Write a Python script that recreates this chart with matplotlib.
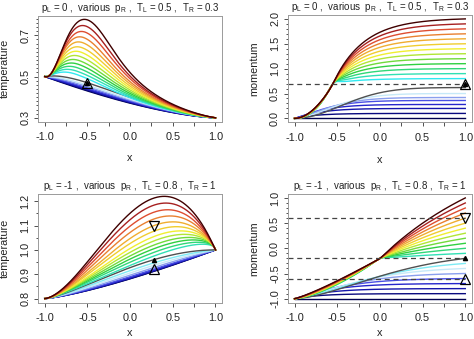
import numpy as np
import matplotlib.pyplot as plt
from matplotlib.colors import LinearSegmentedColormap
from matplotlib.ticker import MultipleLocator

plt.rcParams['font.family'] = ['Liberation Sans', 'DejaVu Sans']
plt.rcParams['mathtext.fontset'] = 'custom'
plt.rcParams['mathtext.rm'] = 'Liberation Sans'
plt.rcParams['mathtext.it'] = 'Liberation Sans:italic'
plt.rcParams['mathtext.default'] = 'regular'

# ---------------- top row: p_L = 0, various p_R, T_L = 0.5, T_R = 0.3
top_title = r'p$_L$ = 0 ,  various  p$_R$ ,  T$_L$ = 0.5 ,  T$_R$ = 0.3'
top_gray = 7
# momentum reached at x = 1
top_mom_end = [0.0, 0.1, 0.2, 0.28, 0.36, 0.42, 0.5, 0.62, 0.8, 0.9, 1.0, 1.1, 1.2,
               1.3, 1.4, 1.5, 1.6, 1.7, 1.8, 1.9, 2.0]
# rise of the momentum curves (exponent and length scale)
top_mom_k = [1.0, 1.0, 1.1, 1.2, 1.35, 1.5, 1.7, 2.0, 2.2, 2.17, 2.15, 2.12, 2.1,
             2.07, 2.05, 2.02, 2.0, 1.97, 1.95, 1.92, 1.9]
top_mom_len = [0.3, 0.25, 0.3, 0.35, 0.42, 0.5, 0.6, 0.75, 0.30, 0.305, 0.31, 0.315,
               0.32, 0.325, 0.33, 0.335, 0.34, 0.345, 0.35, 0.355, 0.36]
top_pinch = (-0.55, 0.7)
# temperature bump: position, value there, left steepness, right width
top_T_x = [-0.5, -0.5, -0.5, -0.5, -0.5, -0.5, -0.5, -0.5, -0.64, -0.63, -0.62, -0.61,
           -0.60, -0.59, -0.58, -0.57, -0.56, -0.55, -0.53, -0.52, -0.50]
top_T_val = [0.430, 0.433, 0.436, 0.440, 0.445, 0.451, 0.458, 0.470, 0.512, 0.527, 0.543,
             0.560, 0.578, 0.598, 0.619, 0.641, 0.665, 0.690, 0.716, 0.745, 0.775]
top_T_left = [1.0] * 8 + [1.6, 1.7, 1.8, 1.9, 2.0, 2.1, 2.2, 2.25, 2.3, 2.35, 2.4, 2.45, 2.5]
top_T_width = [1.0] * 8 + [0.6, 0.58, 0.56, 0.55, 0.54, 0.53, 0.52, 0.51, 0.50, 0.49,
                           0.48, 0.47, 0.46]
top_line_y = 0.7
top_marks_T = (-0.5, 0.47)
top_marks_m = (1.0, 0.7)

# ---------------- bottom row: p_L = -1, various p_R, T_L = 0.8, T_R = 1
bot_title = r'p$_L$ = -1 ,  various  p$_R$ ,  T$_L$ = 0.8 ,  T$_R$ = 1'
bot_gray = 8
bot_mom_end = [-1.0, -0.9, -0.8, -0.7, -0.6, -0.5, -0.4, -0.3, -0.2, -0.1, 0.0, 0.1,
               0.2, 0.3, 0.4, 0.5, 0.6, 0.7, 0.8, 0.9, 1.0]
bot_mom_k = [1.0, 1.0, 1.05, 1.1, 1.2, 1.3, 1.4, 1.5, 1.6, 1.5, 1.47, 1.44, 1.41, 1.38,
             1.35, 1.32, 1.29, 1.26, 1.23, 1.2, 1.17]
bot_mom_len = [0.3, 0.3, 0.38, 0.46, 0.6, 0.75, 0.9, 1.1, 1.3] + [1.5] * 12
bot_pinch = (0.0, -0.2)
# temperature at x = 0.28 and position of the bump
bot_T_x = [0.2] * 9 + [0.40, 0.38, 0.37, 0.36, 0.35, 0.34, 0.32, 0.31, 0.30, 0.29,
                       0.285, 0.28]
bot_T_b = [1.0] * 9 + [0.55, 0.6, 0.65, 0.7, 0.75, 0.8, 0.85, 0.9, 0.93, 0.96, 0.98, 1.0]
bot_T_at = 0.28
bot_T_val = [0.912, 0.913, 0.915, 0.917, 0.921, 0.928, 0.937, 0.947, 0.960, 0.975, 0.990,
             1.005, 1.020, 1.037, 1.055, 1.077, 1.100, 1.127, 1.155, 1.184, 1.213]
bot_lines_y = [0.6, -0.2, -0.6]
bot_marks_x = 0.28
bot_marks_T = [1.10, 0.96, 0.92]
bot_marks_m = [0.6, -0.2, -0.6]

palette = LinearSegmentedColormap.from_list('rb', [
    (0.00, '#000050'), (0.08, '#1010a0'), (0.18, '#3030e0'), (0.30, '#c8ecf8'),
    (0.40, '#30e8f0'), (0.55, '#30d040'), (0.70, '#f0f030'), (0.82, '#f0a030'),
    (0.93, '#d83030'), (1.00, '#400000')])
GRAY = '#505050'
FS = 7.8

x = np.linspace(-1, 1, 400)


def weibull_rise(y0, y1, k, lam):
    u = x + 1
    s = 1 - np.exp(-(u / lam) ** k)
    s2 = 1 - np.exp(-(2 / lam) ** k)
    return y0 + (y1 - y0) * s / s2


def pinch_rise(y0, y1, x0, m0, k, tau):
    t = np.clip((x + 1) / (x0 + 1), 0, None)
    left = y0 + (m0 - y0) * t ** k
    right = m0 + (y1 - m0) * (1 - np.exp(-(x - x0) / tau)) / (1 - np.exp(-(1 - x0) / tau))
    w = 1 / (1 + np.exp(-(x - x0) / 0.03))
    return left * (1 - w) + right * w


def top_temp(c, tc, aL, wid):
    base = lambda z: 0.3 + 0.2 * ((1 - z) / 2) ** 1.5
    u = (1 + x) / (1 + c)
    left = u ** aL * np.exp(aL * (1 - u))
    d = x - c
    end = 1 / (1 + ((1 - c) / wid) ** 2)
    right = 1 / (1 + (d / wid) ** 2) - end * d / (1 - c)
    bump = np.where(x < c, left, right)
    return base(x) + (tc - base(c)) * bump


def bot_temp(c, tval, b):
    base = lambda z: 0.8 + 0.2 * ((1 + z) / 2) ** 1.3
    a = b * (1 + c) / (1 - c)
    g = lambda z: ((1 + z) / (1 + c)) ** a * ((1 - z) / (1 - c)) ** b
    return base(x) + (tval - base(bot_T_at)) / g(bot_T_at) * g(x)


def style_axes(ax, ylabel, yticks, ymin, title, xlab_y):
    ax.set_xlim(-1.08, 1.08)
    ax.xaxis.set_major_locator(MultipleLocator(0.5))
    ax.xaxis.set_minor_locator(MultipleLocator(0.25))
    ax.set_yticks(yticks)
    ax.yaxis.set_minor_locator(MultipleLocator(ymin))
    ax.xaxis.set_major_formatter(lambda v, p: f'{v:.1f}')
    ax.yaxis.set_major_formatter(lambda v, p: f'{v:.1f}')
    ax.tick_params(axis='both', which='both', direction='out', color='#333333',
                   labelcolor='#222222', labelsize=FS, width=0.6)
    ax.tick_params(axis='x', which='both', length=3, pad=4.5)
    ax.tick_params(axis='y', which='major', length=3, pad=2.5)
    ax.tick_params(axis='y', which='minor', length=1.8)
    for lab in ax.get_yticklabels():
        lab.set_rotation(90)
        lab.set_va('center')
    for s in ax.spines.values():
        s.set_color('#9a9a9a')
        s.set_linewidth(0.7)
    ax.set_xlabel('x', fontsize=FS, color='#222222')
    ax.set_ylabel(ylabel, fontsize=FS, color='#222222')
    ax.yaxis.set_label_coords(-0.152, 0.5)
    ax.xaxis.set_label_coords(0.5, xlab_y)
    ax.text(0.5, 1.075, title, transform=ax.transAxes, ha='center', va='center',
            fontsize=7.0, color='#222222')


def color_of(i, gray_idx):
    return GRAY if i == gray_idx else palette(i / 20)


fig = plt.figure(figsize=(4.74, 3.39), dpi=100)
ax1 = fig.add_axes([0.080, 0.641, 0.389, 0.312])
ax2 = fig.add_axes([0.607, 0.639, 0.389, 0.317])
ax3 = fig.add_axes([0.080, 0.107, 0.389, 0.321])
ax4 = fig.add_axes([0.607, 0.107, 0.389, 0.321])

# top-left: temperature
for i in range(len(top_T_val)):
    ax1.plot(x, top_temp(top_T_x[i], top_T_val[i], top_T_left[i], top_T_width[i]),
             color=color_of(i, top_gray), lw=1.0)
ax1.plot(*top_marks_T, marker='^', ms=7, mfc='none', mec='black', mew=0.9)
ax1.plot(*top_marks_T, marker='^', ms=3, color='black')
ax1.set_ylim(0.281, 0.794)
style_axes(ax1, 'temperature', [0.3, 0.5, 0.7], 0.02, top_title, -0.30)

# top-right: momentum
for i in range(len(top_mom_end)):
    if top_mom_end[i] > top_pinch[1]:
        m = pinch_rise(0.0, top_mom_end[i], top_pinch[0], top_pinch[1],
                       top_mom_k[i], top_mom_len[i])
    else:
        m = weibull_rise(0.0, top_mom_end[i], top_mom_k[i], top_mom_len[i])
    ax2.plot(x, m, color=color_of(i, top_gray), lw=1.0)
ax2.axhline(top_line_y, color='#444444', lw=0.9, dashes=(4, 3))
ax2.plot(*top_marks_m, marker='^', ms=7, mfc='none', mec='black', mew=0.9, clip_on=False)
ax2.plot(*top_marks_m, marker='^', ms=3, color='black', clip_on=False)
ax2.set_ylim(-0.08, 2.08)
style_axes(ax2, 'momentum', [0.0, 0.5, 1.0, 1.5, 2.0], 0.1, top_title, -0.30)

# bottom-left: temperature
for i in range(len(bot_T_val)):
    ax3.plot(x, bot_temp(bot_T_x[i], bot_T_val[i], bot_T_b[i]),
             color=color_of(i, bot_gray), lw=1.0)
ax3.plot(bot_marks_x, bot_marks_T[0], marker='v', ms=7, mfc='none', mec='black', mew=0.9)
ax3.plot(bot_marks_x, bot_marks_T[1], marker='^', ms=3, color='black')
ax3.plot(bot_marks_x, bot_marks_T[2], marker='^', ms=7, mfc='none', mec='black', mew=0.9)
ax3.set_ylim(0.783, 1.230)
style_axes(ax3, 'temperature', [0.8, 0.9, 1.0, 1.1, 1.2], 0.05, bot_title, -0.232)

# bottom-right: momentum
for i in range(len(bot_mom_end)):
    if bot_mom_end[i] > bot_pinch[1]:
        m = pinch_rise(-1.0, bot_mom_end[i], bot_pinch[0], bot_pinch[1],
                       bot_mom_k[i], bot_mom_len[i])
    else:
        m = weibull_rise(-1.0, bot_mom_end[i], bot_mom_k[i], bot_mom_len[i])
    ax4.plot(x, m, color=color_of(i, bot_gray), lw=1.0)
ax4.hlines(bot_lines_y, -1.08, 1.0, color='#444444', lw=0.9, linestyles=(0, (4, 3)))
ax4.plot(1.0, bot_marks_m[0], marker='v', ms=7, mfc='none', mec='black', mew=0.9, clip_on=False)
ax4.plot(1.0, bot_marks_m[1], marker='^', ms=3, color='black', clip_on=False)
ax4.plot(1.0, bot_marks_m[2], marker='^', ms=7, mfc='none', mec='black', mew=0.9, clip_on=False)
ax4.set_ylim(-1.08, 1.08)
style_axes(ax4, 'momentum', [-1.0, -0.5, 0.0, 0.5, 1.0], 0.1, bot_title, -0.232)

fig.savefig('out.png', dpi=100)
